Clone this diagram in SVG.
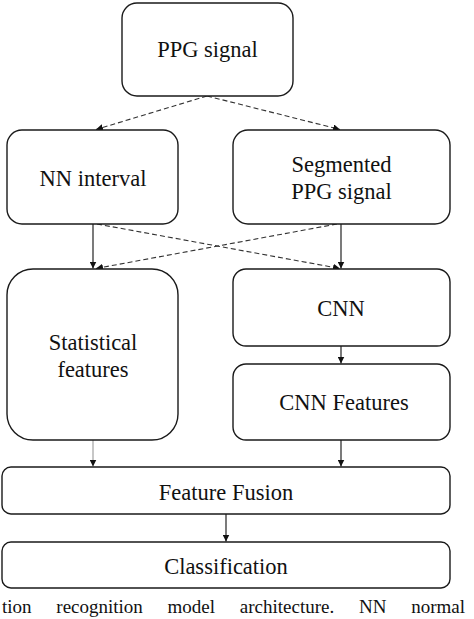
<svg xmlns="http://www.w3.org/2000/svg" width="474" height="619" viewBox="0 0 474 619">
<style>
.box{fill:#fff;stroke:#1a1a1a;stroke-width:1.4}
.t{font-family:'Liberation Serif','Times New Roman',Tinos,'DejaVu Serif','Noto Serif',serif;font-size:22.5px;fill:#111;text-anchor:middle}
.cap{font-family:'Liberation Serif','Times New Roman',Tinos,'DejaVu Serif','Noto Serif',serif;font-size:19px;fill:#111;word-spacing:20px}
.solid{stroke:#222;stroke-width:1.2;fill:none}
.dash{stroke:#333;stroke-width:1.1;fill:none;stroke-dasharray:5 3}
</style>
<defs>
<marker id="ah" viewBox="0 0 10 10" refX="10" refY="5" markerWidth="7" markerHeight="7" markerUnits="userSpaceOnUse" orient="auto">
<path d="M0,0 L10,5 L0,10 z" fill="#111"/>
</marker>
</defs>
<rect width="474" height="619" fill="#fff"/>
<g id="connectors">
<line class="dash" x1="207" y1="96" x2="96" y2="129.5" marker-end="url(#ah)"/>
<line class="dash" x1="207" y1="96" x2="340" y2="129.5" marker-end="url(#ah)"/>
<line class="solid" x1="93" y1="224" x2="93" y2="268.5" marker-end="url(#ah)"/>
<line class="solid" x1="341" y1="224" x2="341" y2="268.5" marker-end="url(#ah)"/>
<line class="dash" x1="97" y1="224" x2="340" y2="268.5" marker-end="url(#ah)"/>
<line class="dash" x1="337" y1="224" x2="96" y2="268.5" marker-end="url(#ah)"/>
<line class="solid" x1="341" y1="346" x2="341" y2="363.5" marker-end="url(#ah)"/>
<line x1="93" y1="440" x2="93" y2="466.5" stroke="#999" stroke-width="1.1" marker-end="url(#ah)"/>
<line class="solid" x1="341" y1="440" x2="341" y2="466.5" marker-end="url(#ah)"/>
<line class="solid" x1="226" y1="514" x2="226" y2="541.5" marker-end="url(#ah)"/>
</g>
<g id="ppg">
<rect class="box" x="122" y="3" width="171" height="93" rx="15"/>
<text class="t" x="207.5" y="57">PPG signal</text>
</g>
<g id="nn">
<rect class="box" x="7" y="130" width="171" height="94" rx="15"/>
<text class="t" x="93" y="186">NN interval</text>
</g>
<g id="seg">
<rect class="box" x="233" y="130" width="217" height="94" rx="15"/>
<text class="t" x="341.5" y="172">Segmented</text>
<text class="t" x="341.5" y="199">PPG signal</text>
</g>
<g id="stat">
<rect class="box" x="7" y="269" width="171" height="171" rx="26"/>
<text class="t" x="93" y="350">Statistical</text>
<text class="t" x="93" y="377">features</text>
</g>
<g id="cnn">
<rect class="box" x="233" y="269" width="217" height="77" rx="13"/>
<text class="t" x="341" y="316">CNN</text>
</g>
<g id="cnnf">
<rect class="box" x="233" y="364" width="217" height="76" rx="13"/>
<text class="t" x="344" y="410">CNN Features</text>
</g>
<g id="fusion">
<rect class="box" x="2" y="467" width="448" height="47" rx="9"/>
<text class="t" x="226" y="500">Feature Fusion</text>
</g>
<g id="class">
<rect class="box" x="2" y="542" width="448" height="46" rx="9"/>
<text class="t" x="226" y="574">Classification</text>
</g>
<text class="cap" x="2" y="613">tion recognition model architecture. NN normal</text>
</svg>
